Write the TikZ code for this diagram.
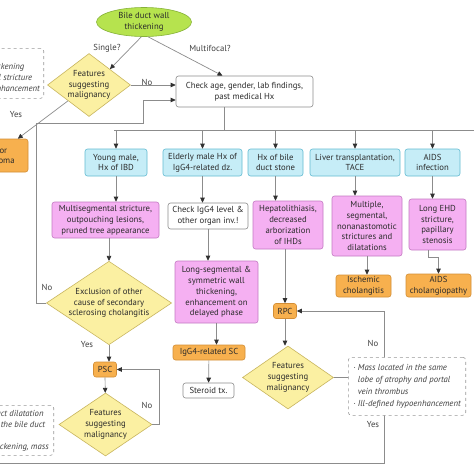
\documentclass[tikz,border=0pt]{standalone}
\usepackage{fontspec}
\setmainfont{PT Sans}
\usetikzlibrary{shapes.geometric,arrows.meta}
\definecolor{txt}{HTML}{2B2B2B}
\definecolor{wire}{HTML}{8C8C8C}
\definecolor{tipc}{HTML}{303030}
\definecolor{startfill}{HTML}{B6E34E}
\definecolor{startline}{HTML}{86B238}
\definecolor{askfill}{HTML}{FBF0A2}
\definecolor{askline}{HTML}{C8B55E}
\definecolor{causefill}{HTML}{C6EDF7}
\definecolor{causeline}{HTML}{63BBD2}
\definecolor{findfill}{HTML}{F5B0F2}
\definecolor{findline}{HTML}{C47AC2}
\definecolor{dxfill}{HTML}{F7B04E}
\definecolor{dxline}{HTML}{D38E36}

\begin{document}
\begin{tikzpicture}[
  x=1pt,y=-1pt,
  >={Triangle[length=5pt,width=4.5pt,color=tipc]},
  base/.style={align=center,font=\fontsize{8.7}{10.8}\selectfont,text=txt,inner sep=1.5pt,line width=0.6pt},
  start/.style={base,ellipse,draw=startline,fill=startfill,inner sep=0pt},
  ask/.style={base,diamond,draw=askline,fill=askfill,inner sep=0pt,shape aspect=1.3},
  cause/.style={base,rectangle,rounded corners=2.5pt,draw=causeline,fill=causefill},
  finding/.style={base,rectangle,rounded corners=2.5pt,draw=findline,fill=findfill},
  dx/.style={base,rectangle,rounded corners=2.5pt,draw=dxline,fill=dxfill},
  plain/.style={base,rectangle,rounded corners=2.5pt,draw=black!45,fill=white},
  note/.style={rectangle,rounded corners=3pt,draw=black!40,dashed,line width=0.6pt,fill=white},
  notetxt/.style={align=left,font=\fontsize{8.7}{11}\itshape\selectfont,text=black!75,inner sep=0pt},
  lab/.style={font=\fontsize{8.7}{10}\selectfont,text=black!75,inner sep=1pt},
  flow/.style={->,wire,line width=0.7pt},
  line/.style={wire,line width=0.7pt}
]
  \useasboundingbox (0,0) rectangle (474,474);
  \fill[white] (0,0) rectangle (474,474);
  \clip (0,0) rectangle (474,474);

  % top of the chart
  \node[start,minimum width=95,minimum height=29] (wall) at (144,22) {Bile duct wall\\thickening};
  \node[ask,minimum width=83,minimum height=63] (mal1) at (89,85) {Features\\suggesting\\malignancy};
  \node[plain,minimum width=137,minimum height=31] (check) at (244.5,91.5) {Check age, gender, lab findings,\\past medical Hx};
  \node[dx,minimum width=65,minimum height=33] (tumor) at (-4.5,155.5) {Tumor\\carcinoma};

  % causes
  \node[cause,minimum width=62,minimum height=27] (young) at (116,162.5) {Young male,\\Hx of IBD};
  \node[cause,minimum width=79,minimum height=27] (elderly) at (202.5,162.5) {Elderly male Hx of\\IgG4-related dz.};
  \node[cause,minimum width=55,minimum height=27] (stone) at (275.5,162.5) {Hx of bile\\duct stone};
  \node[cause,minimum width=90,minimum height=27] (ltx) at (355,162.5) {Liver transplantation,\\TACE};
  \node[cause,minimum width=55,minimum height=27] (aids) at (432.5,162.5) {AIDS\\infection};

  % imaging findings
  \node[finding,minimum width=107,minimum height=36] (multiseg) at (105.5,220) {Multisegmental stricture,\\outpouching lesions,\\pruned tree appearance};
  \node[plain,minimum width=80,minimum height=26] (igcheck) at (208,216) {Check IgG4 level \&\\other organ inv.!};
  \node[finding,minimum width=70,minimum height=48] (hepato) at (288,225) {Hepatolithiasis,\\decreased\\arborization\\of IHDs};
  \node[finding,minimum width=70,minimum height=60] (multiple) at (367,226) {Multiple,\\segmental,\\nonanastomotic\\strictures and\\dilatations};
  \node[finding,minimum width=57,minimum height=51] (ehd) at (437.5,224.5) {Long EHD\\stricture,\\papillary\\stenosis};
  \node[ask,minimum width=122,minimum height=82,shape aspect=1.5] (excl) at (109,303) {Exclusion of other\\cause of secondary\\sclerosing cholangitis};
  \node[finding,minimum width=83,minimum height=62] (longseg) at (216.5,292) {Long-segmental \&\\symmetric wall\\thickening,\\enhancement on\\delayed phase};

  % diagnoses
  \node[dx,minimum width=55,minimum height=22] (ischemic) at (363.5,286) {Ischemic\\cholangitis};
  \node[dx,minimum width=65,minimum height=23] (aidsch) at (438.5,285.5) {AIDS\\cholangiopathy};
  \node[dx,minimum width=23,minimum height=15,inner sep=1pt] (psc) at (105,369.5) {PSC};
  \node[dx,minimum width=72,minimum height=15,inner sep=1pt] (igsc) at (209,352.5) {IgG4-related SC};
  \node[dx,minimum width=23,minimum height=15,inner sep=1pt] (rpc) at (285,311) {RPC};
  \node[plain,minimum width=51,minimum height=15,inner sep=1pt] (steroid) at (208.5,390.5) {Steroid tx.};
  \node[ask,minimum width=93,minimum height=63] (mal2) at (105.5,424.5) {Features\\suggesting\\malignancy};
  \node[ask,minimum width=91,minimum height=63] (mal3) at (288,377.5) {Features\\suggesting\\malignancy};

  \coordinate (busl) at (114,130);
  \coordinate (busr) at (480,130);
  \coordinate (loopa) at (36,123);
  \coordinate (loopb) at (143,100);
  \coordinate (pscr) at (159,369.5);
  \coordinate (rpcr) at (384,311);
  \coordinate (rpcd) at (384,463);
  \coordinate (rpcend) at (-10,463);

  % connectors
  \draw[flow] (wall.260) -- (mal1.north east);
  \draw[flow] (wall.285) -- ([xshift=-22]check.north);
  \draw[flow] (mal1.east) -- (mal1.east -| check.west);
  \draw[flow] (mal1) -- (tumor);
  \draw[line] ([xshift=-20]check.south) -- ([xshift=-20]check.south |- busl);
  \draw[line] (busl) -- (busr);
  \draw[flow] (young.north |- busl) -- (young.north);
  \draw[flow] (elderly.north |- busl) -- (elderly.north);
  \draw[flow] (stone.north |- busl) -- (stone.north);
  \draw[flow] (ltx.north |- busl) -- (ltx.north);
  \draw[flow] (aids.north |- busl) -- (aids.north);

  \draw[flow] (young.south) -- (young.south |- multiseg.north);
  \draw[flow] (multiseg.south -| excl.north) -- (excl.north);
  \draw[flow] (excl.west) -| (loopa) -| (loopb) -- (loopb -| check.west);
  \draw[flow] (excl.south) -- (excl.south |- psc.north);
  \draw[flow] (psc) -- (mal2);
  \draw[flow] (mal2.east) -| (pscr) -- (psc.east);

  \draw[flow] (elderly.south) -- (elderly.south |- igcheck.north);
  \draw[flow] (igcheck.south) -- (igcheck.south |- longseg.north);
  \draw[flow] (longseg.south) -- (longseg.south |- igsc.north);
  \draw[flow] (igsc) -- (steroid);

  \draw[flow] (stone.south) -- (stone.south |- hepato.north);
  \draw[flow] (hepato.south -| rpc.north) -- (rpc.north);
  \draw[flow] (rpc.south) -- (rpc.south |- mal3.north);
  \draw[flow] (mal3.east) -| (rpcr) -- (rpc.east);
  \draw[line] (mal3.east) -| (rpcd) -- (rpcend);

  \draw[flow] (ltx.south) -- (ltx.south |- multiple.north);
  \draw[flow] (multiple.south) -- (multiple.south |- ischemic.north);
  \draw[flow] (aids.south) -- (aids.south |- ehd.north);
  \draw[flow] ([xshift=-9]ehd.south) -- ++(0,7) -| (aidsch.north);

  % branch labels
  \node[lab] (single) at (107,48) {Single?};
  \node[lab] (multi) at (210,48) {Multifocal?};
  \node[lab] (no1) at (147,82) {No};
  \node[lab] (yes1) at (16,115) {Yes};
  \node[lab] (no2) at (47,287) {No};
  \node[lab] (yes2) at (87,345) {Yes};
  \node[lab] (no3) at (147,405) {No};
  \node[lab] (no4) at (373,343) {No};
  \node[lab] (yes4) at (373,425) {Yes};

  % notes
  \node[note,minimum width=130,minimum height=50,anchor=north east] (topnote) at (44,48) {};
  \node[notetxt,anchor=east] (topnotetxt) at (40,78) {· Asymmetric thickening\\· Long-segmental stricture\\· Arterial hyperenhancement};
  \node[note,minimum width=130,minimum height=50,anchor=north east] (pscnote) at (54,405) {};
  \node[notetxt,anchor=east] (pscnotetxt) at (49,431) {· Upstream bile duct dilatation\\\phantom{· }narrowing along the bile duct\\[11pt]· Irregular wall thickening, mass};
  \node[note,anchor=north west,inner xsep=5pt,inner ysep=5pt] (rpcnote) at (348,357)
    {\begin{tabular}{@{}l@{}}\fontsize{8.7}{11}\itshape\selectfont\color{black!75}· Mass located in the same\\
     \fontsize{8.7}{11}\itshape\selectfont\color{black!75}\phantom{· }lobe of atrophy and portal\\
     \fontsize{8.7}{11}\itshape\selectfont\color{black!75}\phantom{· }vein thrombus\\
     \fontsize{8.7}{11}\itshape\selectfont\color{black!75}· Ill-defined hypoenhancement\end{tabular}};
\end{tikzpicture}
\end{document}
